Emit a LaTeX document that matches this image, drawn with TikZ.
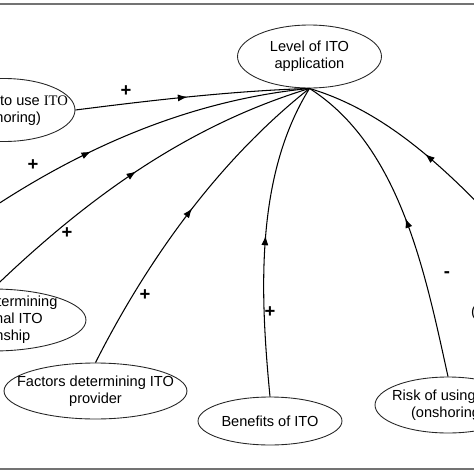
\documentclass[tikz,border=0pt]{standalone}
\usepackage{fontspec}
\setmainfont{Liberation Sans}
\newfontfamily\timesFont{Liberation Serif}
\usetikzlibrary{arrows.meta, shapes.geometric, decorations.markings}
\tikzstyle{fFactor} = [ellipse, draw=black!85, line width=0.5pt, inner xsep=-0.3cm, inner ysep=-0.05cm, align=center, font=\fontsize{8.3}{9.7}\selectfont]
\tikzstyle{fSign} = [inner sep=0pt, font=\fontsize{10.5}{10.5}\selectfont\bfseries]
\tikzstyle{fRule} = [draw=black!55, line width=0.04cm]
\tikzset{fArrow/.style={line width=0.6pt, postaction={decorate, decoration={markings, mark=at position #1 with {\arrow{Latex[length=5.5pt, width=4pt]}}}}}}

\begin{document}
\begin{tikzpicture}[x=0.02cm, y=-0.02cm]
    \useasboundingbox (0,0) rectangle (474,474);
    \clip (0,0) rectangle (474,474);
    \draw [fRule] (0,4) -- (474,4);
    \draw [fRule] (0,468.5) -- (474,468.5);

    \node (level) [fFactor, minimum width=2.88cm, minimum height=1.26cm] at (309.5,56.5) {Level of ITO\\application};
    \node (onshore) [fFactor, minimum width=2.84cm, minimum height=1.26cm] at (4,110) {Decision to use {\timesFont ITO}\\(onshoring)};
    \node (relation) [fFactor, minimum width=3.72cm, minimum height=1.24cm] at (-7,320) {Factors determining\\the optimal ITO\\relationship};
    \node (provider) [fFactor, minimum width=3.66cm, minimum height=1.12cm] at (95.5,391) {Factors determining ITO\\provider};
    \node (benefits) [fFactor, minimum width=2.88cm, minimum height=0.96cm] at (270,421) {Benefits of ITO};
    \node (risk) [fFactor, minimum width=2.92cm, minimum height=1.12cm] at (448,405) {Risk of using ITO\\(onshoring)};
    \node (riskoff) [fFactor, minimum width=2.92cm, minimum height=1.12cm, text width=3.4cm, inner xsep=-1.7cm, align=left] at (556,313) {(offshoring)};
    \coordinate (offleft) at (-20,216);

    \draw [fArrow=0.48] (onshore.east) .. controls (154,100) and (232,91) .. (level.south);
    \draw [fArrow=0.36] (offleft) .. controls (83,146) and (192,100) .. (level.south);
    \draw [fArrow=0.49] (relation.north) .. controls (86,199) and (186,126) .. (level.south);
    \draw [fArrow=0.52] (provider.north) .. controls (148,259) and (219,160) .. (level.south);
    \draw [fArrow=0.51] (benefits.north) .. controls (260,293) and (255,176) .. (level.south);
    \draw [fArrow=0.5] (risk.north) .. controls (425,272) and (400,146) .. (level.south);
    \draw [fArrow=0.58] (riskoff.north) .. controls (483,211) and (412,119) .. (level.south);

    \node (s1) [fSign] at (126,91) {+};
    \node (s2) [fSign] at (33,165) {+};
    \node (s3) [fSign] at (67,233) {+};
    \node (s4) [fSign] at (145,295) {+};
    \node (s5) [fSign] at (270,312) {+};
    \node (s6) [fSign] at (447,275) {-};
\end{tikzpicture}
\end{document}
